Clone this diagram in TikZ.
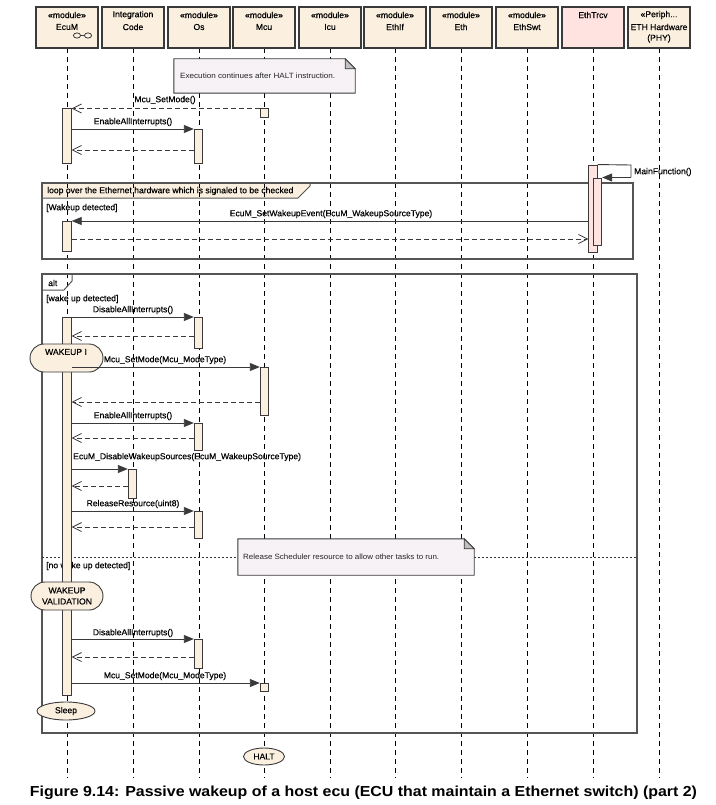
\documentclass[tikz,border=0pt]{standalone}
\usepackage{fontspec}
\setmainfont{Liberation Sans}
\newfontfamily\lblf{Liberation Sans}[FakeBold=0.35]
\usetikzlibrary{arrows.meta,shapes.geometric}
\definecolor{beige}{HTML}{FBF0E0}
\definecolor{pinkfill}{HTML}{FFE3E0}
\definecolor{notefill}{HTML}{F6F2F6}
\definecolor{edge}{HTML}{3A3A3A}
\definecolor{frameedge}{HTML}{555555}
\tikzset{
  hdr/.style={draw=edge, line width=1.2pt, fill=beige, minimum width=62pt, minimum height=41pt, inner sep=0pt},
  hfont/.style={font=\lblf\fontsize{8.6}{10}\selectfont, inner sep=0pt, text=black},
  lbl/.style={font=\lblf\fontsize{8.6}{10}\selectfont, inner sep=0pt, text=black},
  notetext/.style={font=\fontsize{7.6}{9}\selectfont, inner sep=0pt, text=black!85, anchor=west},
  life/.style={draw=black, line width=0.9pt, dash pattern=on 5pt off 4pt},
  actbar/.style={draw=edge, line width=0.9pt, fill=beige, minimum width=8.5pt, inner sep=0pt},
  pinkbar/.style={actbar, fill=pinkfill},
  call/.style={draw=edge, line width=0.9pt, -{Triangle[length=10pt,width=8pt]}},
  ret/.style={draw=edge, line width=0.9pt, dash pattern=on 5pt off 3pt, -{Straight Barb[length=9pt,width=9pt,line width=0.8pt]}},
  frm/.style={draw=frameedge, line width=1.3pt},
  notebox/.style={draw=edge, line width=0.9pt, fill=notefill},
  statebox/.style={draw=edge, line width=0.9pt, fill=beige, inner sep=0pt},
}
\begin{document}
\begin{tikzpicture}[x=1pt,y=-1pt]
\useasboundingbox (0,0) rectangle (715,805);
\fill[white] (0,0) rectangle (715,805);

% lifeline end points
\foreach \n/\x in {EcuM/67, Int/133, Os/199, Mcu/264, Icu/330, EthIf/395, Eth/461, EthSwt/527, EthTrcv/593, Phy/659}{
  \coordinate (top\n) at (\x,48);
  \coordinate (bot\n) at (\x,778);
}

% loop label fill (under lifelines)
\fill[beige] (42,183) -- (310,183) -- (310,186) -- (298,198) -- (42,198) -- cycle;

% lifelines
\foreach \n in {EcuM, Int, Os, Mcu, Icu, EthIf, Eth, EthSwt, EthTrcv, Phy}{
  \draw[life] (top\n) -- (bot\n);
}

% headers
\node[hdr] (hEcuM) at (67,27.5) {};
\node[hdr] (hInt) at (133,27.5) {};
\node[hdr] (hOs) at (199,27.5) {};
\node[hdr] (hMcu) at (264,27.5) {};
\node[hdr] (hIcu) at (330,27.5) {};
\node[hdr] (hEthIf) at (395,27.5) {};
\node[hdr] (hEth) at (461,27.5) {};
\node[hdr] (hEthSwt) at (527,27.5) {};
\node[hdr, fill=pinkfill] (hEthTrcv) at (593,27.5) {};
\node[hdr] (hPhy) at (659,27.5) {};

\node[hfont] (tEcuMa) at (67,15) {«module»};
\node[hfont] (tEcuMb) at (67,27) {EcuM};
\draw[edge, line width=0.8pt] (77,35.5) ellipse (3.6pt and 2.6pt);
\draw[edge, line width=0.8pt] (88,35.5) ellipse (3.6pt and 2.6pt);
\draw[edge, line width=0.8pt] (80.6,35.5) -- (84.4,35.5);
\node[hfont] (tInta) at (133,15) {Integration};
\node[hfont] (tIntb) at (133,27) {Code};
\node[hfont] (tOsa) at (199,15) {«module»};
\node[hfont] (tOsb) at (199,27) {Os};
\node[hfont] (tMcua) at (264,15) {«module»};
\node[hfont] (tMcub) at (264,27) {Mcu};
\node[hfont] (tIcua) at (330,15) {«module»};
\node[hfont] (tIcub) at (330,27) {Icu};
\node[hfont] (tEthIfa) at (395,15) {«module»};
\node[hfont] (tEthIfb) at (395,27) {EthIf};
\node[hfont] (tEtha) at (461,15) {«module»};
\node[hfont] (tEthb) at (461,27) {Eth};
\node[hfont] (tEthSwta) at (527,15) {«module»};
\node[hfont] (tEthSwtb) at (527,27) {EthSwt};
\node[hfont] (tEthTrcv) at (593,15) {EthTrcv};
\node[hfont] (tPhya) at (659,15) {«Periph...};
\node[hfont] (tPhyb) at (659,27) {ETH Hardware};
\node[hfont] (tPhyc) at (659,38.5) {(PHY)};

% loop frame
\draw[frm] (42,183) rectangle (633,259);
\draw[frm, line width=1pt] (42,198) -- (298,198) -- (310,186) -- (310,183);
\node[lbl, anchor=west] (loopLbl) at (47,191) {loop over the Ethernet hardware which is signaled to be checked};
\node[lbl, anchor=west] (loopGuard) at (46,208) {[Wakeup detected]};

% alt frame
\draw[frm] (42,274) rectangle (637,733);
\draw[frm, line width=1pt] (42,290) -- (64,290) -- (72,281) -- (72,274);
\node[lbl, anchor=west] (altLbl) at (48,283) {alt};
\node[lbl, anchor=west] (altGuard1) at (46,299) {[wake up detected]};
\draw[draw=black!80, line width=0.8pt, dash pattern=on 2pt off 2pt] (42,557) -- (637,557);
\node[lbl, anchor=west] (altGuard2) at (46,566) {[no wake up detected]};

% notes
\node[inner sep=0pt, minimum width=181pt, minimum height=34pt] (note1) at (264.5,76) {};
\draw[notebox] (note1.north west) -- ([xshift=-10pt]note1.north east) -- ([yshift=-10pt]note1.north east) -- (note1.south east) -- (note1.south west) -- cycle;
\draw[edge, line width=0.8pt, fill=black!25] ([xshift=-10pt]note1.north east) -- ([xshift=-10pt,yshift=-10pt]note1.north east) -- ([yshift=-10pt]note1.north east) -- cycle;
\node[notetext] (note1t) at (180,76) {\resizebox{155pt}{\height}{Execution continues after HALT instruction.}};

\node[inner sep=0pt, minimum width=236pt, minimum height=36pt] (note2) at (356,557) {};
\draw[notebox] (note2.north west) -- ([xshift=-10pt]note2.north east) -- ([yshift=-10pt]note2.north east) -- (note2.south east) -- (note2.south west) -- cycle;
\draw[edge, line width=0.8pt, fill=black!25] ([xshift=-10pt]note2.north east) -- ([xshift=-10pt,yshift=-10pt]note2.north east) -- ([yshift=-10pt]note2.north east) -- cycle;
\node[notetext] (note2t) at (243,557) {\resizebox{196pt}{\height}{Release Scheduler resource to allow other tasks to run.}};

% activation bars
\node[actbar, minimum height=55pt] (A1) at (67,135.5) {};
\node[actbar, minimum height=9pt] (M1) at (264.5,112.5) {};
\node[actbar, minimum height=34pt] (O1) at (198.5,146) {};
\node[pinkbar, minimum height=87pt] (T1) at (593,208.5) {};
\node[pinkbar, minimum height=67pt] (T2) at (597.5,211.5) {};
\node[actbar, minimum height=30pt] (A2) at (67,236) {};
\node[actbar, minimum height=378pt] (A3) at (67,506) {};
\node[actbar, minimum height=31pt] (O2) at (198.5,332.5) {};
\node[actbar, minimum height=48pt] (M2) at (264.5,391) {};
\node[actbar, minimum height=27pt] (O3) at (198.5,436.5) {};
\node[actbar, minimum height=29pt] (I1) at (132.5,483.5) {};
\node[actbar, minimum height=27pt] (O4) at (198.5,524.5) {};
\node[actbar, minimum height=29pt] (O5) at (198.5,653.5) {};
\node[actbar, minimum height=8pt] (M3) at (264.5,687) {};

% state invariants
\node[statebox, rounded corners=14pt, minimum width=73pt, minimum height=28pt] (sWake) at (66.5,358) {};
\node[lbl] (sWaket) at (66,352) {WAKEUP I};
\node[statebox, rounded corners=14pt, minimum width=72pt, minimum height=28pt, align=center, font=\lblf\fontsize{8.6}{11}\selectfont] (sVal) at (67,596) {WAKEUP\\VALIDATION};
\node[statebox, ellipse, minimum width=58pt, minimum height=18pt, font=\lblf\fontsize{8.6}{10}\selectfont] (sSleep) at (66,711) {Sleep};
\node[statebox, ellipse, minimum width=41pt, minimum height=17pt, font=\lblf\fontsize{8.6}{10}\selectfont] (sHalt) at (264,756.5) {HALT};

% messages
\draw[ret] (M1.west |- 0,108.5) -- (A1.east |- 0,108.5);
\node[lbl] (m1) at (165,100) {Mcu\_SetMode()};
\draw[call] (A1.east |- 0,129) -- (O1.west |- 0,129);
\node[lbl] (m2) at (133,122) {EnableAllInterrupts()};
\draw[ret] (O1.west |- 0,150) -- (A1.east |- 0,150);

\draw[edge, line width=0.9pt] (T1.north east) -- (631,165) -- (631,177.5);
\draw[call] (631,177.5) -- (T2.east |- 0,177.5);
\node[lbl, anchor=west] (m3) at (634,172) {MainFunction()};

\draw[call] (T1.west |- 0,221) -- (A2.east |- 0,221);
\node[lbl] (m4) at (331,214) {EcuM\_SetWakeupEvent(EcuM\_WakeupSourceType)};
\draw[ret] (A2.east |- 0,239) -- (T1.west |- 0,239);

\draw[call] (A3.east |- 0,317) -- (O2.west |- 0,317);
\node[lbl] (m5) at (133,310) {DisableAllInterrupts()};
\draw[ret] (O2.west |- 0,336) -- (A3.east |- 0,336);

\draw[call] (A3.east |- 0,367) -- (M2.west |- 0,367);
\node[lbl] (m6) at (165,360) {Mcu\_SetMode(Mcu\_ModeType)};
\draw[ret] (M2.west |- 0,402) -- (A3.east |- 0,402);

\draw[call] (A3.east |- 0,423) -- (O3.west |- 0,423);
\node[lbl] (m7) at (133,416) {EnableAllInterrupts()};
\draw[ret] (O3.west |- 0,438) -- (A3.east |- 0,438);

\draw[call] (A3.east |- 0,469) -- (I1.west |- 0,469);
\node[lbl, anchor=west] (m8) at (73,457) {EcuM\_DisableWakeupSources(EcuM\_WakeupSourceType)};
\draw[ret] (I1.west |- 0,486) -- (A3.east |- 0,486);

\draw[call] (A3.east |- 0,511) -- (O4.west |- 0,511);
\node[lbl] (m9) at (133,504) {ReleaseResource(uint8)};
\draw[ret] (O4.west |- 0,527) -- (A3.east |- 0,527);

\draw[call] (A3.east |- 0,639) -- (O5.west |- 0,639);
\node[lbl] (m10) at (133,633) {DisableAllInterrupts()};
\draw[ret] (O5.west |- 0,657) -- (A3.east |- 0,657);

\draw[call] (A3.east |- 0,683) -- (M3.west |- 0,683);
\node[lbl] (m11) at (165,676) {Mcu\_SetMode(Mcu\_ModeType)};

% caption
\node[inner sep=0pt] (caption) at (363.5,793) {\resizebox{667pt}{\height}{\fontsize{14.5}{16}\selectfont\bfseries Figure 9.14: Passive wakeup of a host ecu (ECU that maintain a Ethernet switch) (part 2)}};
\end{tikzpicture}
\end{document}
